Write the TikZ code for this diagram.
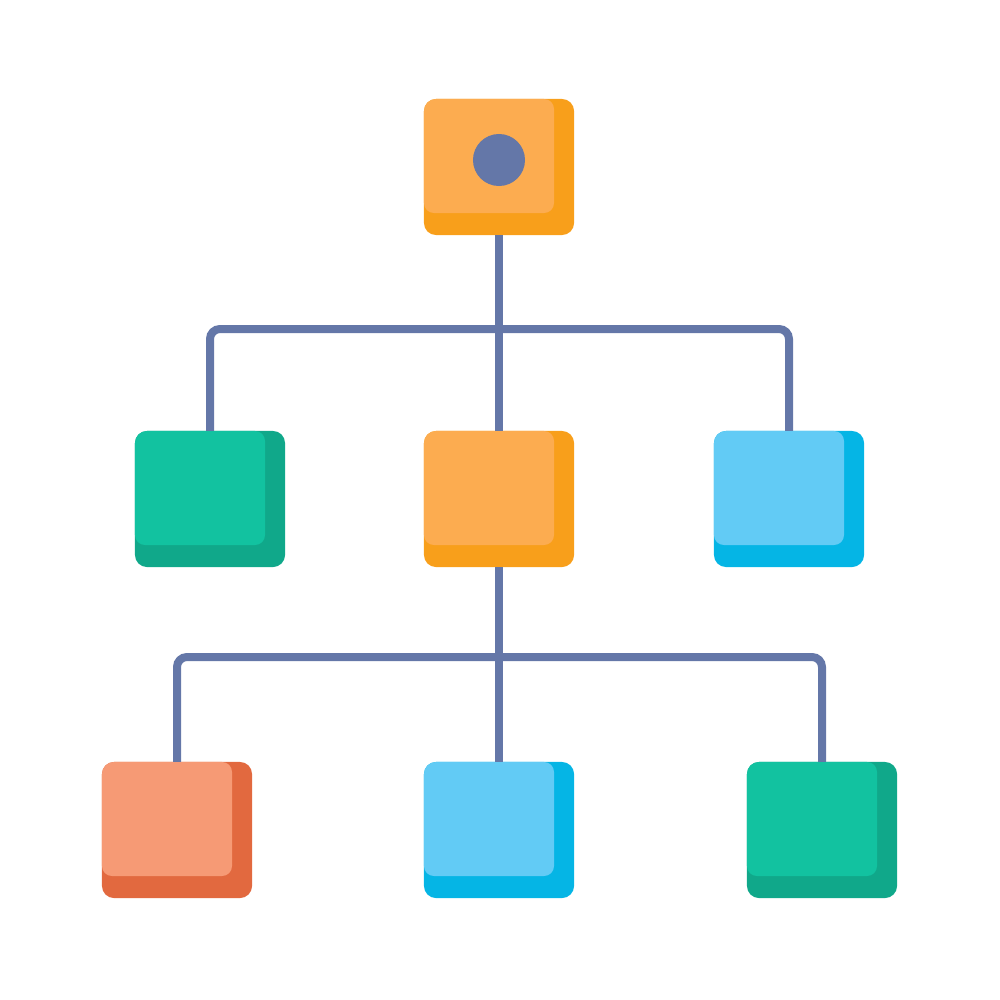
\documentclass[tikz,border=0pt]{standalone}
\usepackage{tikz}
\usetikzlibrary{calc}
\definecolor{wireblue}{HTML}{6477A8}
\definecolor{orangelt}{HTML}{FCAC50}
\definecolor{orangedk}{HTML}{F89F1B}
\definecolor{greenlt}{HTML}{12C2A0}
\definecolor{greendk}{HTML}{10A88A}
\definecolor{skylt}{HTML}{62CBF5}
\definecolor{skydk}{HTML}{05B5E5}
\definecolor{salmonlt}{HTML}{F69A75}
\definecolor{salmondk}{HTML}{E2693F}
\tikzset{%
  >=latex, % option for nice arrows
  wire/.style={draw=wireblue,line width=0.8mm,rounded corners=1mm},%
  tile/.style 2 args={minimum width=1.5cm,minimum height=1.36cm,
    inner sep=0pt,outer sep=0pt,rounded corners=1.2mm,fill=#2,
    path picture={\fill[#1,rounded corners=1mm]
      (path picture bounding box.north west) rectangle
      ([xshift=-2mm,yshift=2.2mm]path picture bounding box.south east);}}%
}
\begin{document}
\begin{tikzpicture}[x=0.01cm,y=-0.01cm] % TREE

\useasboundingbox (0,0) rectangle (1000,1000);

\coordinate (fork1) at (499,329);
\coordinate (fork2) at (499,657);

\node[tile={orangelt}{orangedk}] (root) at (499,167) {};
\node[tile={greenlt}{greendk}] (left) at (210,499) {};
\node[tile={orangelt}{orangedk}] (mid) at (499,499) {};
\node[tile={skylt}{skydk}] (right) at (789,499) {};
\node[tile={salmonlt}{salmondk}] (leaf1) at (177,830) {};
\node[tile={skylt}{skydk}] (leaf2) at (499,830) {};
\node[tile={greenlt}{greendk}] (leaf3) at (822,830) {};
\node[circle,fill=wireblue,minimum size=0.52cm,inner sep=0pt] (hub) at (499,160) {};

\draw[wire] (root.south) -- (mid.north);
\draw[wire] (left.north) |- (fork1) -| (right.north);
\draw[wire] (mid.south) -- (leaf2.north);
\draw[wire] (leaf1.north) |- (fork2) -| (leaf3.north);

\end{tikzpicture}
\end{document}
